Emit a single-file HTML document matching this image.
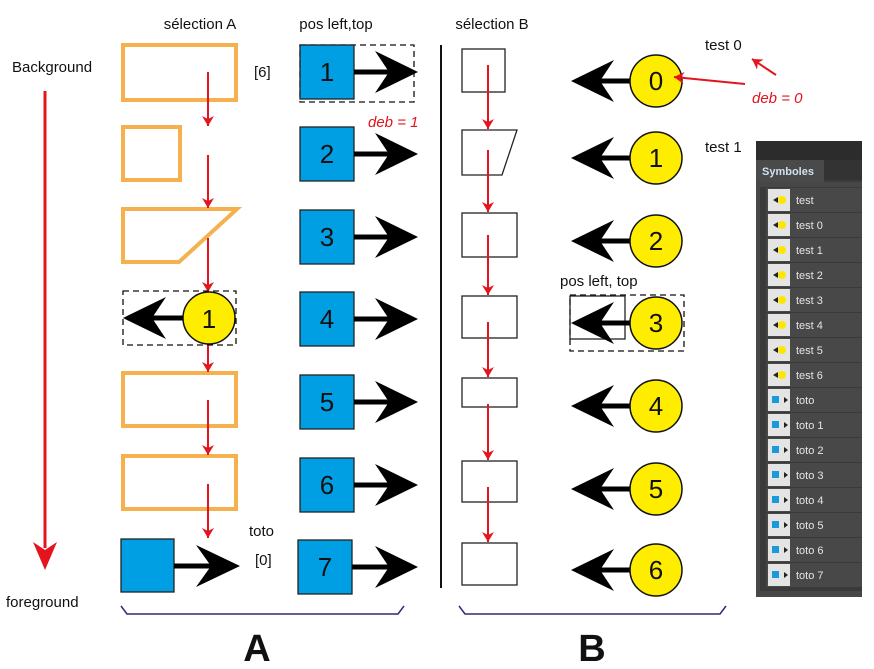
<!DOCTYPE html>
<html><head><meta charset="utf-8"><style>
html,body{margin:0;padding:0;background:#fff;}
svg{display:block;font-family:"Liberation Sans","DejaVu Sans",sans-serif;}
</style></head><body>
<svg width="874" height="669" viewBox="0 0 874 669" xmlns="http://www.w3.org/2000/svg">
<defs>
<marker id="rh" viewBox="0 0 10 12" refX="10" refY="6" markerWidth="10" markerHeight="12" markerUnits="userSpaceOnUse" orient="auto"><path d="M0,0 L10,6 L0,12 L3,6 Z" fill="#e3141e"/></marker>
</defs>
<!-- texts top -->
<g font-size="15" fill="#111">
<text x="200" y="29" text-anchor="middle">sélection A</text>
<text x="336" y="29" text-anchor="middle">pos left,top</text>
<text x="492" y="29" text-anchor="middle">sélection B</text>
<text x="12" y="72">Background</text>
<text x="6" y="607">foreground</text>
<text x="254" y="77">[6]</text>
<text x="249" y="536">toto</text>
<text x="255" y="565">[0]</text>
<text x="560" y="286">pos left, top</text>
<text x="705" y="50">test 0</text>
<text x="705" y="152">test 1</text>
</g>
<g font-size="15" fill="#e3141e" font-style="italic">
<text x="368" y="127">deb = 1</text>
<text x="752" y="103">deb = 0</text>
</g>
<!-- background arrow -->
<line x1="45" y1="91" x2="45" y2="548" stroke="#e3141e" stroke-width="3"/>
<path d="M33,542 L45,570 L57,542 L45,550 Z" fill="#e3141e"/>
<!-- orange shapes -->
<g fill="none" stroke="#f6b14f" stroke-width="4">
<rect x="123" y="45" width="113" height="55"/>
<rect x="123" y="127" width="57" height="53"/>
<path d="M123,209 L237,209 L179,262 L123,262 Z"/>
<rect x="123" y="373" width="113" height="53"/>
<rect x="123" y="456" width="113" height="53"/>
</g>
<!-- red arrows col A -->
<g stroke="#e3141e" stroke-width="2" marker-end="url(#rh)">
<line x1="208" y1="72" x2="208" y2="126"/>
<line x1="208" y1="155" x2="208" y2="208"/>
<line x1="208" y1="238" x2="208" y2="292"/>
<line x1="208" y1="345" x2="208" y2="372"/>
<line x1="208" y1="400" x2="208" y2="455"/>
<line x1="208" y1="484" x2="208" y2="538"/>
</g>
<!-- A item 4 -->
<rect x="123" y="291" width="113" height="54" fill="none" stroke="#111" stroke-width="1.3" stroke-dasharray="6,4"/>
<line x1="150" y1="318" x2="185" y2="318" stroke="#000" stroke-width="5"/>
<path d="M123,318 L166,297 L152,318 L166,339 Z" fill="#000"/>
<circle cx="209" cy="318" r="26" fill="#ffed00" stroke="#111" stroke-width="1.5"/>
<text x="209" y="328" font-size="26" text-anchor="middle" fill="#111">1</text>
<!-- A item 7 -->
<rect x="121" y="539" width="53" height="53" fill="#009fe3" stroke="#222" stroke-width="1.3"/>
<line x1="174" y1="566" x2="214" y2="566" stroke="#000" stroke-width="5"/>
<path d="M240,566 L196,545 L211,566 L196,587 Z" fill="#000"/>
<!-- blue squares column -->
<g>
<rect x="300" y="45" width="114" height="57" fill="none" stroke="#111" stroke-width="1.3" stroke-dasharray="6,4"/>
</g>
<g font-size="26" fill="#111" text-anchor="middle">
<g id="b1"><rect x="300" y="45" width="54" height="54" fill="#009fe3" stroke="#222" stroke-width="1.3"/><line x1="354" y1="72" x2="392" y2="72" stroke="#000" stroke-width="5"/><path d="M418,72 L375,51 L389,72 L375,93 Z" fill="#000"/><text x="327" y="81">1</text></g>
<rect x="300" y="127" width="54" height="54" fill="#009fe3" stroke="#222" stroke-width="1.3"/><line x1="354" y1="154" x2="392" y2="154" stroke="#000" stroke-width="5"/><path d="M418,154 L375,133 L389,154 L375,175 Z" fill="#000"/><text x="327" y="163">2</text>
<rect x="300" y="210" width="54" height="54" fill="#009fe3" stroke="#222" stroke-width="1.3"/><line x1="354" y1="237" x2="392" y2="237" stroke="#000" stroke-width="5"/><path d="M418,237 L375,216 L389,237 L375,258 Z" fill="#000"/><text x="327" y="246">3</text>
<rect x="300" y="292" width="54" height="54" fill="#009fe3" stroke="#222" stroke-width="1.3"/><line x1="354" y1="319" x2="392" y2="319" stroke="#000" stroke-width="5"/><path d="M418,319 L375,298 L389,319 L375,340 Z" fill="#000"/><text x="327" y="328">4</text>
<rect x="300" y="375" width="54" height="54" fill="#009fe3" stroke="#222" stroke-width="1.3"/><line x1="354" y1="402" x2="392" y2="402" stroke="#000" stroke-width="5"/><path d="M418,402 L375,381 L389,402 L375,423 Z" fill="#000"/><text x="327" y="411">5</text>
<rect x="300" y="458" width="54" height="54" fill="#009fe3" stroke="#222" stroke-width="1.3"/><line x1="354" y1="485" x2="392" y2="485" stroke="#000" stroke-width="5"/><path d="M418,485 L375,464 L389,485 L375,506 Z" fill="#000"/><text x="327" y="494">6</text>
<rect x="298" y="540" width="54" height="54" fill="#009fe3" stroke="#222" stroke-width="1.3"/><line x1="352" y1="567" x2="392" y2="567" stroke="#000" stroke-width="5"/><path d="M418,567 L375,546 L389,567 L375,588 Z" fill="#000"/><text x="325" y="576">7</text>
</g>
<!-- divider -->
<line x1="441" y1="45" x2="441" y2="588" stroke="#111" stroke-width="2"/>
<!-- column B shapes -->
<g fill="#fff" stroke="#222" stroke-width="1.3">
<rect x="462" y="49" width="43" height="43"/>
<path d="M462,130 L517,130 L502,175 L462,175 Z"/>
<rect x="462" y="213" width="55" height="44"/>
<rect x="462" y="296" width="55" height="42"/>
<rect x="462" y="378" width="55" height="29"/>
<rect x="462" y="461" width="55" height="41"/>
<rect x="462" y="543" width="55" height="42"/>
</g>
<g stroke="#e3141e" stroke-width="2" marker-end="url(#rh)">
<line x1="488" y1="65" x2="488" y2="129"/>
<line x1="488" y1="150" x2="488" y2="212"/>
<line x1="488" y1="235" x2="488" y2="295"/>
<line x1="488" y1="322" x2="488" y2="377"/>
<line x1="488" y1="404" x2="488" y2="460"/>
<line x1="488" y1="487" x2="488" y2="542"/>
</g>
<!-- circles column -->
<rect x="570" y="295" width="114" height="56" fill="none" stroke="#111" stroke-width="1.3" stroke-dasharray="6,4"/>
<rect x="570" y="296" width="55" height="43" fill="none" stroke="#222" stroke-width="1.3"/>
<g font-size="26" fill="#111" text-anchor="middle">
<line x1="598" y1="81" x2="632" y2="81" stroke="#000" stroke-width="5"/><path d="M571,81 L614,60 L600,81 L614,102 Z" fill="#000"/><circle cx="656" cy="81" r="26" fill="#ffed00" stroke="#111" stroke-width="1.5"/><text x="656" y="90">0</text>
<line x1="598" y1="158" x2="632" y2="158" stroke="#000" stroke-width="5"/><path d="M571,158 L614,137 L600,158 L614,179 Z" fill="#000"/><circle cx="656" cy="158" r="26" fill="#ffed00" stroke="#111" stroke-width="1.5"/><text x="656" y="167">1</text>
<line x1="598" y1="241" x2="632" y2="241" stroke="#000" stroke-width="5"/><path d="M571,241 L614,220 L600,241 L614,262 Z" fill="#000"/><circle cx="656" cy="241" r="26" fill="#ffed00" stroke="#111" stroke-width="1.5"/><text x="656" y="250">2</text>
<line x1="598" y1="323" x2="632" y2="323" stroke="#000" stroke-width="5"/><path d="M571,323 L614,302 L600,323 L614,344 Z" fill="#000"/><circle cx="656" cy="323" r="26" fill="#ffed00" stroke="#111" stroke-width="1.5"/><text x="656" y="332">3</text>
<line x1="598" y1="406" x2="632" y2="406" stroke="#000" stroke-width="5"/><path d="M571,406 L614,385 L600,406 L614,427 Z" fill="#000"/><circle cx="656" cy="406" r="26" fill="#ffed00" stroke="#111" stroke-width="1.5"/><text x="656" y="415">4</text>
<line x1="598" y1="489" x2="632" y2="489" stroke="#000" stroke-width="5"/><path d="M571,489 L614,468 L600,489 L614,510 Z" fill="#000"/><circle cx="656" cy="489" r="26" fill="#ffed00" stroke="#111" stroke-width="1.5"/><text x="656" y="498">5</text>
<line x1="598" y1="570" x2="632" y2="570" stroke="#000" stroke-width="5"/><path d="M571,570 L614,549 L600,570 L614,591 Z" fill="#000"/><circle cx="656" cy="570" r="26" fill="#ffed00" stroke="#111" stroke-width="1.5"/><text x="656" y="579">6</text>
</g>
<!-- deb=0 arrows -->
<g stroke="#e3141e" stroke-width="2" marker-end="url(#rh)">
<line x1="745" y1="84" x2="674" y2="77"/>
<line x1="776" y1="75" x2="752" y2="59"/>
</g>
<!-- brackets -->
<path d="M121,606 L127,614 L398,614 L404,606" fill="none" stroke="#2e2a7a" stroke-width="1.5"/>
<path d="M459,606 L465,614 L720,614 L726,606" fill="none" stroke="#2e2a7a" stroke-width="1.5"/>
<text x="257" y="661" font-size="38" font-weight="bold" text-anchor="middle" fill="#111">A</text>
<text x="592" y="661" font-size="38" font-weight="bold" text-anchor="middle" fill="#111">B</text>
<!-- Symbols panel -->
<rect x="756" y="141" width="106" height="456" fill="#3c3c3c"/>
<rect x="756" y="141" width="106" height="19" fill="#2c2c2c"/>
<rect x="756" y="160" width="106" height="20" fill="#333"/>
<rect x="756" y="160" width="68" height="22" fill="#4a4a4a"/>
<text x="762" y="175" font-size="11" font-weight="bold" fill="#cfe0ef">Symboles</text>
<rect x="756" y="182" width="106" height="415" fill="#474747"/>
<rect x="760" y="187" width="102" height="404" fill="#3a3a3a"/>
<g font-size="11" fill="#e6e6e6">
<g id="rows"></g>
</g>
<g font-size="11" fill="#e6e6e6">
<rect x="766" y="188" width="96" height="24" fill="#484848"/><rect x="768" y="189" width="22" height="22" fill="#e4e4e4"/><circle cx="782" cy="200" r="4" fill="#ffe600"/><path d="M773,200 L778,197 L778,203Z" fill="#222"/><text x="796" y="204">test</text>
<rect x="766" y="213" width="96" height="24" fill="#484848"/><rect x="768" y="214" width="22" height="22" fill="#e4e4e4"/><circle cx="782" cy="225" r="4" fill="#ffe600"/><path d="M773,225 L778,222 L778,228Z" fill="#222"/><text x="796" y="229">test 0</text>
<rect x="766" y="238" width="96" height="24" fill="#484848"/><rect x="768" y="239" width="22" height="22" fill="#e4e4e4"/><circle cx="782" cy="250" r="4" fill="#ffe600"/><path d="M773,250 L778,247 L778,253Z" fill="#222"/><text x="796" y="254">test 1</text>
<rect x="766" y="263" width="96" height="24" fill="#484848"/><rect x="768" y="264" width="22" height="22" fill="#e4e4e4"/><circle cx="782" cy="275" r="4" fill="#ffe600"/><path d="M773,275 L778,272 L778,278Z" fill="#222"/><text x="796" y="279">test 2</text>
<rect x="766" y="288" width="96" height="24" fill="#484848"/><rect x="768" y="289" width="22" height="22" fill="#e4e4e4"/><circle cx="782" cy="300" r="4" fill="#ffe600"/><path d="M773,300 L778,297 L778,303Z" fill="#222"/><text x="796" y="304">test 3</text>
<rect x="766" y="313" width="96" height="24" fill="#484848"/><rect x="768" y="314" width="22" height="22" fill="#e4e4e4"/><circle cx="782" cy="325" r="4" fill="#ffe600"/><path d="M773,325 L778,322 L778,328Z" fill="#222"/><text x="796" y="329">test 4</text>
<rect x="766" y="338" width="96" height="24" fill="#484848"/><rect x="768" y="339" width="22" height="22" fill="#e4e4e4"/><circle cx="782" cy="350" r="4" fill="#ffe600"/><path d="M773,350 L778,347 L778,353Z" fill="#222"/><text x="796" y="354">test 5</text>
<rect x="766" y="363" width="96" height="24" fill="#484848"/><rect x="768" y="364" width="22" height="22" fill="#e4e4e4"/><circle cx="782" cy="375" r="4" fill="#ffe600"/><path d="M773,375 L778,372 L778,378Z" fill="#222"/><text x="796" y="379">test 6</text>
<rect x="766" y="388" width="96" height="24" fill="#484848"/><rect x="768" y="389" width="22" height="22" fill="#e4e4e4"/><rect x="772" y="396" width="7" height="7" fill="#1a9ad9"/><path d="M784,397 L788,400 L784,403Z" fill="#222"/><text x="796" y="404">toto</text>
<rect x="766" y="413" width="96" height="24" fill="#484848"/><rect x="768" y="414" width="22" height="22" fill="#e4e4e4"/><rect x="772" y="421" width="7" height="7" fill="#1a9ad9"/><path d="M784,422 L788,425 L784,428Z" fill="#222"/><text x="796" y="429">toto 1</text>
<rect x="766" y="438" width="96" height="24" fill="#484848"/><rect x="768" y="439" width="22" height="22" fill="#e4e4e4"/><rect x="772" y="446" width="7" height="7" fill="#1a9ad9"/><path d="M784,447 L788,450 L784,453Z" fill="#222"/><text x="796" y="454">toto 2</text>
<rect x="766" y="463" width="96" height="24" fill="#484848"/><rect x="768" y="464" width="22" height="22" fill="#e4e4e4"/><rect x="772" y="471" width="7" height="7" fill="#1a9ad9"/><path d="M784,472 L788,475 L784,478Z" fill="#222"/><text x="796" y="479">toto 3</text>
<rect x="766" y="488" width="96" height="24" fill="#484848"/><rect x="768" y="489" width="22" height="22" fill="#e4e4e4"/><rect x="772" y="496" width="7" height="7" fill="#1a9ad9"/><path d="M784,497 L788,500 L784,503Z" fill="#222"/><text x="796" y="504">toto 4</text>
<rect x="766" y="513" width="96" height="24" fill="#484848"/><rect x="768" y="514" width="22" height="22" fill="#e4e4e4"/><rect x="772" y="521" width="7" height="7" fill="#1a9ad9"/><path d="M784,522 L788,525 L784,528Z" fill="#222"/><text x="796" y="529">toto 5</text>
<rect x="766" y="538" width="96" height="24" fill="#484848"/><rect x="768" y="539" width="22" height="22" fill="#e4e4e4"/><rect x="772" y="546" width="7" height="7" fill="#1a9ad9"/><path d="M784,547 L788,550 L784,553Z" fill="#222"/><text x="796" y="554">toto 6</text>
<rect x="766" y="563" width="96" height="24" fill="#484848"/><rect x="768" y="564" width="22" height="22" fill="#e4e4e4"/><rect x="772" y="571" width="7" height="7" fill="#1a9ad9"/><path d="M784,572 L788,575 L784,578Z" fill="#222"/><text x="796" y="579">toto 7</text>
</g>
</svg>
</body></html>
